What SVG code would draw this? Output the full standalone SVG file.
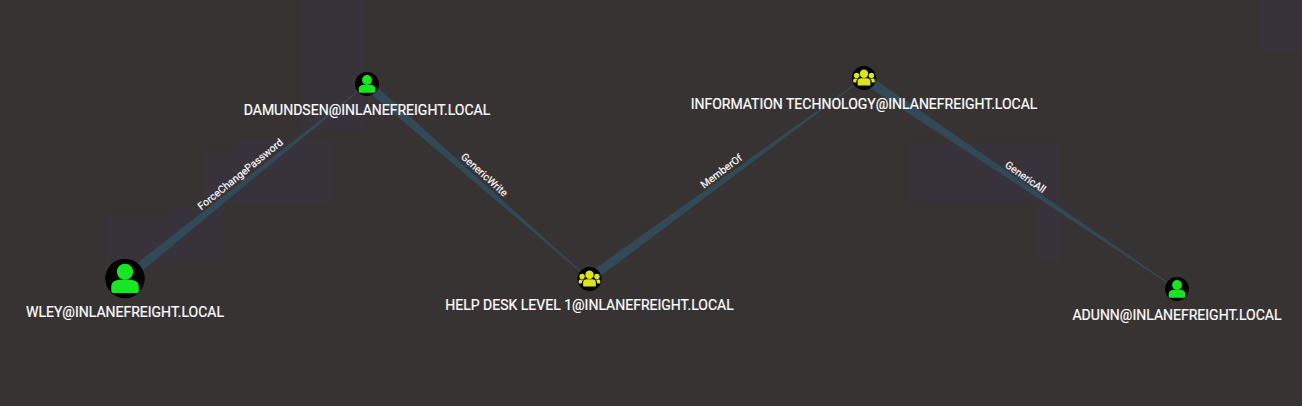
<svg xmlns="http://www.w3.org/2000/svg" width="1302" height="406" viewBox="0 0 1302 406">
<style>
.n{font-family:Roboto,"Liberation Sans",sans-serif;font-size:14px;fill:#fff;stroke:#fff;stroke-width:.2;text-anchor:middle}
.e{font-family:Roboto,"Liberation Sans",sans-serif;font-size:10.3px;fill:#fff;stroke:#fff;stroke-width:.15;text-anchor:middle}
.edge{fill:#324958}
.p{fill:#38323a}
.disc{fill:#000}
.u{fill:#17e625}
.g{fill:#dce41c}
</style>
<defs>
<g id="user"><circle class="disc" r="11.9"/><circle class="u" cy="-4" r="4.9"/><path class="u" d="M-8.3 7.4V5C-8.3 2-5.5 .8-3 .8H3C5.5 .8 8.3 2 8.3 5V7.4Q8.3 8.8 6.6 8.8H-6.6Q-8.3 8.8-8.3 7.4Z"/></g>
<g id="group"><circle class="disc" r="12"/><circle class="g" cy="-4.2" r="4.2"/><circle class="g" cx="-7.4" cy="-2.6" r="2.7"/><circle class="g" cx="7.4" cy="-2.6" r="2.7"/><path class="g" d="M-6.4 6.4V3.4C-6.4 1-4.6 .2-3 .2H3C4.6 .2 6.4 1 6.4 3.4V6.4C6.4 7.4 5.6 7.6 5 7.6H-5C-5.6 7.6-6.4 7.4-6.4 6.4Z"/><path class="g" d="M-10.8 3.6V2.2C-10.8 .8-10 .4-9 .4H-5.8C-7 1.2-7.6 2.2-7.6 3.6V4.6H-9.8C-10.4 4.6-10.8 4.2-10.8 3.6Z"/><path class="g" d="M10.8 3.6V2.2C10.8 .8 10 .4 9 .4H5.8C7 1.2 7.6 2.2 7.6 3.6V4.6H9.8C10.4 4.6 10.8 4.2 10.8 3.6Z"/></g>
</defs>
<rect width="1302" height="406" fill="#383333"/>
<g id="patches">
<rect class="p" x="302" y="0" width="62" height="130"/>
<rect class="p" x="237" y="140" width="96" height="63"/>
<rect class="p" x="205" y="150" width="32" height="53"/>
<rect class="p" x="173" y="207" width="50" height="56"/>
<rect class="p" x="106" y="214" width="67" height="49"/>
<rect class="p" x="910" y="142" width="150" height="60"/>
<rect class="p" x="1037" y="202" width="24" height="60"/>
<rect class="p" x="1260" y="0" width="42" height="52"/>
</g>
<g id="connectors">
<polygon class="edge" points="122,275 128,282.500 367.300,84.300 366.700,83.700"/>
<polygon class="edge" points="364,88 370,80.500 589.300,278.700 588.700,279.300"/>
<polygon class="edge" points="586,275 592,282.500 864.300,78.300 863.700,77.700"/>
<polygon class="edge" points="861,82 867,74 1177.300,288.700 1176.700,289.300"/>
<text class="e" transform="translate(242.500 177) rotate(-39)">ForceChangePassword</text>
<text class="e" transform="translate(482 177.500) rotate(42)">GenericWrite</text>
<text class="e" transform="translate(723.500 174) rotate(-37)">MemberOf</text>
<text class="e" transform="translate(1023.500 180) rotate(35)">GenericAll</text>
</g>
<g id="wley"><use href="#user" transform="translate(125 278.500) scale(1.66)"/><text class="n" x="125" y="317">WLEY@INLANEFREIGHT.LOCAL</text></g>
<g id="damundsen"><use href="#user" transform="translate(367 84)"/><text class="n" x="367" y="115">DAMUNDSEN@INLANEFREIGHT.LOCAL</text></g>
<g id="helpdesk"><use href="#group" transform="translate(589.500 279)"/><text class="n" x="589.500" y="310">HELP DESK LEVEL 1@INLANEFREIGHT.LOCAL</text></g>
<g id="infotech"><use href="#group" transform="translate(864 78)"/><text class="n" x="864" y="109">INFORMATION TECHNOLOGY@INLANEFREIGHT.LOCAL</text></g>
<g id="adunn"><use href="#user" transform="translate(1177 289)"/><text class="n" x="1177" y="320">ADUNN@INLANEFREIGHT.LOCAL</text></g>
</svg>
